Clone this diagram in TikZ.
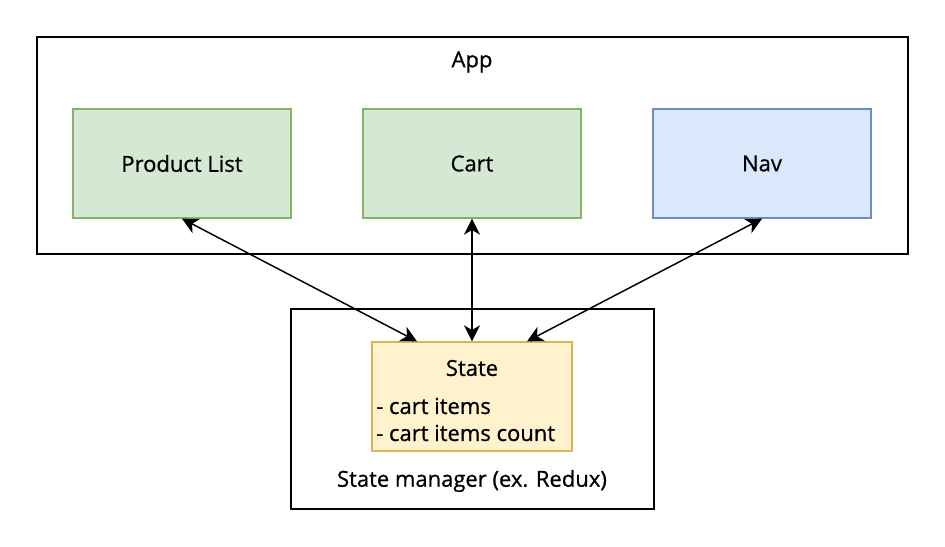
\documentclass[tikz,border=0pt]{standalone}
\usepackage{xcolor}
\usepackage{fontspec}
\setmainfont{Open Sans}
\usepackage{tikz}
\usetikzlibrary{arrows.meta,positioning,calc,shapes}

\definecolor{greenfill}{HTML}{D5E8D4}
\definecolor{greenline}{HTML}{82B366}
\definecolor{bluefill}{HTML}{DAE8FC}
\definecolor{blueline}{HTML}{6C8EBF}
\definecolor{yellowfill}{HTML}{FFF2CC}
\definecolor{yellowline}{HTML}{D6B656}

\begin{document}
\begin{tikzpicture}[x=0.75pt, y=-0.75pt,
    frame/.style={rectangle, draw=black, line width=1pt},
    comp/.style={rectangle, draw=greenline, fill=greenfill, line width=1pt, minimum width=163.5pt, minimum height=81.75pt, font=\fontsize{16.5}{19}\selectfont\addfontfeature{FakeBold=0.8}},
    txt/.style={font=\fontsize{16.5}{19}\selectfont\addfontfeature{FakeBold=0.8}, inner sep=0pt},
    arrow/.style={{Stealth[length=12pt,width=12pt,inset=3.5pt]}-{Stealth[length=12pt,width=12pt,inset=3.5pt]}, line width=1.1pt}
]
\useasboundingbox (0,0) rectangle (945,546);

% Outer frames
\node[frame, minimum width=653.25pt, minimum height=162.75pt] (app) at (472.5,145.5) {};
\node[txt] (applabel) at (472,62) {App};
\node[frame, minimum width=272.25pt, minimum height=150pt] (manager) at (472.5,409) {};
\node[txt] (managerlabel) at (472,481) {State manager (ex. Redux)};

% Components
\node[comp] (plist) at (182,163.5) {Product List};
\node[comp] (cart) at (472,163.5) {Cart};
\node[comp, draw=blueline, fill=bluefill] (nav) at (762,163.5) {Nav};

% State
\node[rectangle, draw=yellowline, fill=yellowfill, line width=1pt, minimum width=150pt, minimum height=81.75pt] (state) at (472,396.5) {};
\node[txt] (statetitle) at (472,368) {State};
\node[txt, anchor=west] (item1) at (376,406) {- cart items};
\node[txt, anchor=west] (item2) at (376,433) {- cart items count};

% Arrows
\draw[arrow] (plist.south) -- ($(state.north)+(-55,0)$);
\draw[arrow] (cart.south) -- (state.north);
\draw[arrow] (nav.south) -- ($(state.north)+(55,0)$);
\end{tikzpicture}
\end{document}
